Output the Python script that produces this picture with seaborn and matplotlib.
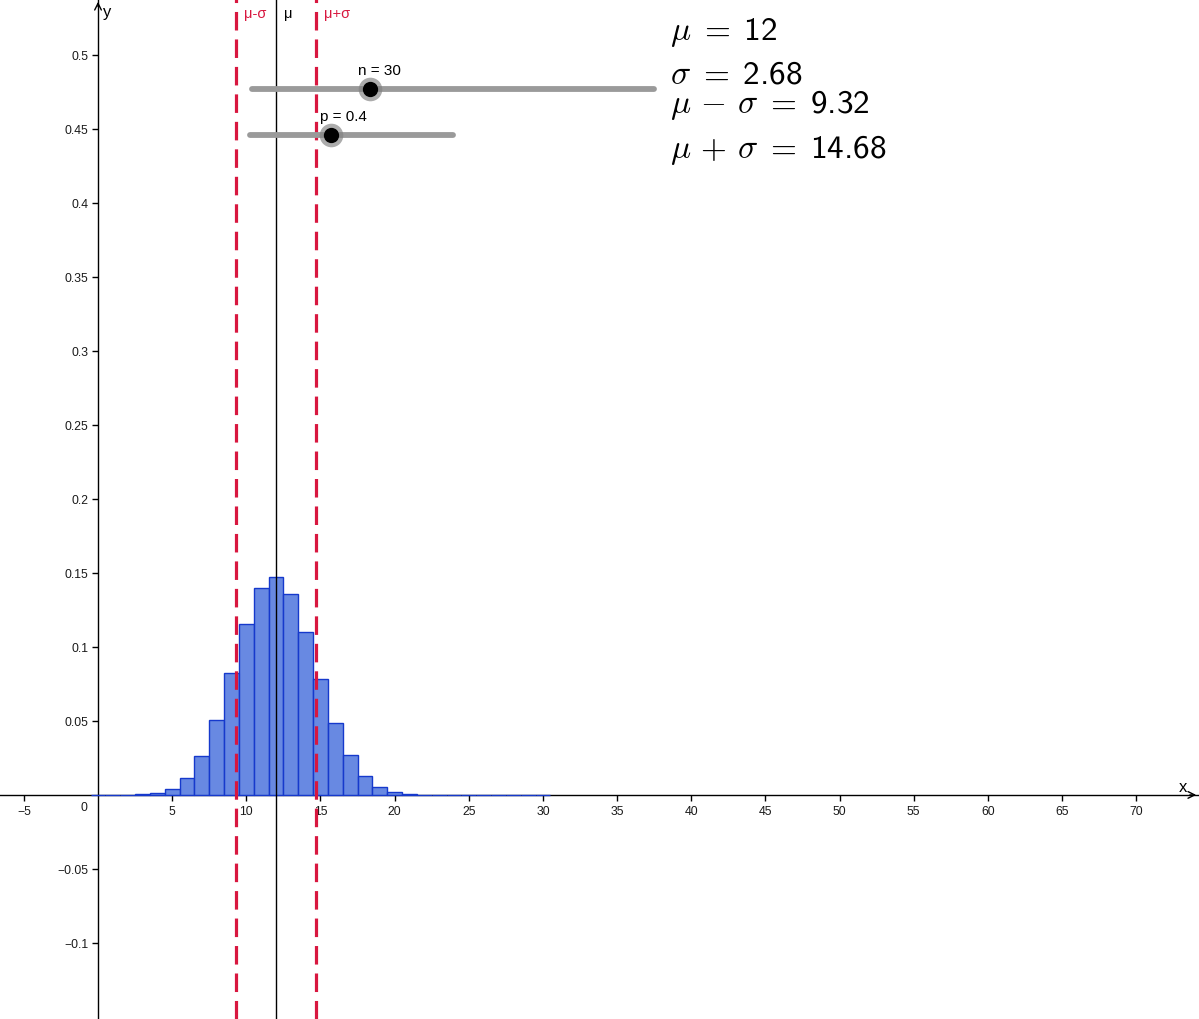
import numpy as np
import matplotlib
matplotlib.use("Agg")
import matplotlib.pyplot as plt
import seaborn as sns

# ---- data ----
n_value = 30
p_value = 0.4
k_values = list(range(0, 31))
probabilities = [0.0000, 0.0000, 0.0000, 0.0003, 0.0012, 0.0041, 0.0115, 0.0263,
                 0.0505, 0.0823, 0.1152, 0.1396, 0.1474, 0.1360, 0.1101, 0.0783,
                 0.0489, 0.0269, 0.0129, 0.0054, 0.0020, 0.0006, 0.0002, 0.0000,
                 0.0000, 0.0000, 0.0000, 0.0000, 0.0000, 0.0000, 0.0000]
x_ticks = [-5, 5, 10, 15, 20, 25, 30, 35, 40, 45, 50, 55, 60, 65, 70]
y_ticks = [-0.1, -0.05, 0.05, 0.1, 0.15, 0.2, 0.25, 0.3, 0.35, 0.4, 0.45, 0.5]
n_range = (1, 100)
p_range = (0, 1)

mu = n_value * p_value
sigma = round(np.sqrt(n_value * p_value * (1 - p_value)), 2)

sns.set_theme(style="white")
plt.rcParams['font.family'] = ['Liberation Sans', 'DejaVu Sans']
plt.rcParams['text.color'] = 'black'
plt.rcParams['mathtext.fontset'] = 'custom'
plt.rcParams['mathtext.rm'] = 'cmss10'
plt.rcParams['mathtext.sf'] = 'cmss10'
plt.rcParams['mathtext.it'] = 'cmmi10'
plt.rcParams['mathtext.fallback'] = 'cm'


def fmt_minus(v):
    return ('\u2212' if v < 0 else '') + ('%g' % abs(v))


W, H = 1199, 1020
fig = plt.figure(figsize=(W / 100, H / 100), dpi=100)
ax = fig.add_axes([0, 0, 1, 1])
ax.set_facecolor('white')

sns.histplot(x=k_values, weights=probabilities, discrete=True, stat='count',
             color='#5b7fe0', alpha=0.92, edgecolor='#1639cc', linewidth=1.0, ax=ax)

ax.set_xlim(-6.61, 74.24)
ax.set_ylim(-0.1514, 0.5378)
ax.set_xlabel('')
ax.set_ylabel('')

# axes through origin
for s in ['top', 'right']:
    ax.spines[s].set_visible(False)
ax.spines['left'].set_position(('data', 0))
ax.spines['bottom'].set_position(('data', 0))
for s in ['left', 'bottom']:
    ax.spines[s].set_color('black')
    ax.spines[s].set_linewidth(1.0)
    ax.spines[s].set_zorder(0.5)

ax.set_xticks(x_ticks)
ax.set_xticklabels([fmt_minus(t) for t in x_ticks])
ax.set_yticks(y_ticks)
ax.set_yticklabels([fmt_minus(t) for t in y_ticks])
ax.tick_params(axis='both', which='major', direction='out', length=4, width=1,
               color='black', labelsize=8.8, labelcolor='#1a1a1a', pad=3,
               bottom=True, left=True)
ax.text(-0.7, -0.004, '0', ha='right', va='top', fontsize=8.8, color='#1a1a1a')

# arrows
ax.annotate('', xy=(1.0, 0), xycoords=('axes fraction', 'data'),
            xytext=(0.99, 0), textcoords=('axes fraction', 'data'),
            arrowprops=dict(arrowstyle='->', color='black', lw=1.0))
ax.annotate('', xy=(0, 1.0), xycoords=('data', 'axes fraction'),
            xytext=(0, 0.99), textcoords=('data', 'axes fraction'),
            arrowprops=dict(arrowstyle='->', color='black', lw=1.0))
ax.text(1183 / W, 1 - 787 / H, 'x', transform=ax.transAxes, fontsize=12,
        ha='center', va='center')
ax.text(107 / W, 1 - 13 / H, 'y', transform=ax.transAxes, fontsize=12,
        ha='center', va='center')

# mean and +/- sigma lines
red = '#d8173f'
ax.axvline(mu, color='black', lw=1.0, zorder=3)
ax.axvline(mu - sigma, color=red, lw=2.3, ls=(0, (5.8, 2.8)), zorder=3)
ax.axvline(mu + sigma, color=red, lw=2.3, ls=(0, (5.8, 2.8)), zorder=3)
ytop = 0.5378 - 0.0045
ax.text(mu - sigma + 0.55, ytop, 'μ-σ', color=red, fontsize=10.5, ha='left', va='top')
ax.text(mu + 0.55, ytop, 'μ', color='black', fontsize=10.5, ha='left', va='top')
ax.text(mu + sigma + 0.55, ytop, 'μ+σ', color=red, fontsize=10.5, ha='left', va='top')


# sliders (screen-positioned, like GeoGebra)
def slider(x0, x1, y, frac, label, lx):
    t = ax.transAxes
    ax.plot([x0 / W, x1 / W], [1 - y / H, 1 - y / H], transform=t, color='#9a9a9a',
            lw=4.2, solid_capstyle='round', zorder=5)
    kx = (x0 + frac * (x1 - x0)) / W
    ax.plot([kx], [1 - y / H], transform=t, marker='o', ms=17, color='#808080',
            alpha=0.65, mew=0, zorder=6)
    ax.plot([kx], [1 - y / H], transform=t, marker='o', ms=11, color='black',
            mew=0, zorder=7)
    ax.text(lx / W, 1 - (y - 15) / H, label, transform=t, fontsize=11,
            ha='left', va='baseline', zorder=7)


slider(252, 654, 90, (n_value - n_range[0]) / (n_range[1] - n_range[0]),
       'n = %d' % n_value, 358)
slider(250, 453, 136, (p_value - p_range[0]) / (p_range[1] - p_range[0]),
       'p = %g' % p_value, 320)

# formula texts
big = 24
tx = 670 / W
ax.text(tx, 1 - 40 / H, r'$\mu\;=\;\mathrm{%g}$' % mu, transform=ax.transAxes,
        fontsize=big, va='baseline', ha='left')
ax.text(tx, 1 - 84 / H, r'$\sigma\;=\;\mathrm{%.2f}$' % sigma, transform=ax.transAxes,
        fontsize=big, va='baseline', ha='left')
ax.text(tx, 1 - 113 / H, r'$\mu\,-\,\sigma\;=\;\mathrm{%.2f}$' % (mu - sigma),
        transform=ax.transAxes, fontsize=big, va='baseline', ha='left')
ax.text(tx, 1 - 158 / H, r'$\mu\,+\,\sigma\;=\;\mathrm{%.2f}$' % (mu + sigma),
        transform=ax.transAxes, fontsize=big, va='baseline', ha='left')

fig.savefig('out.png', dpi=100, facecolor='white')
